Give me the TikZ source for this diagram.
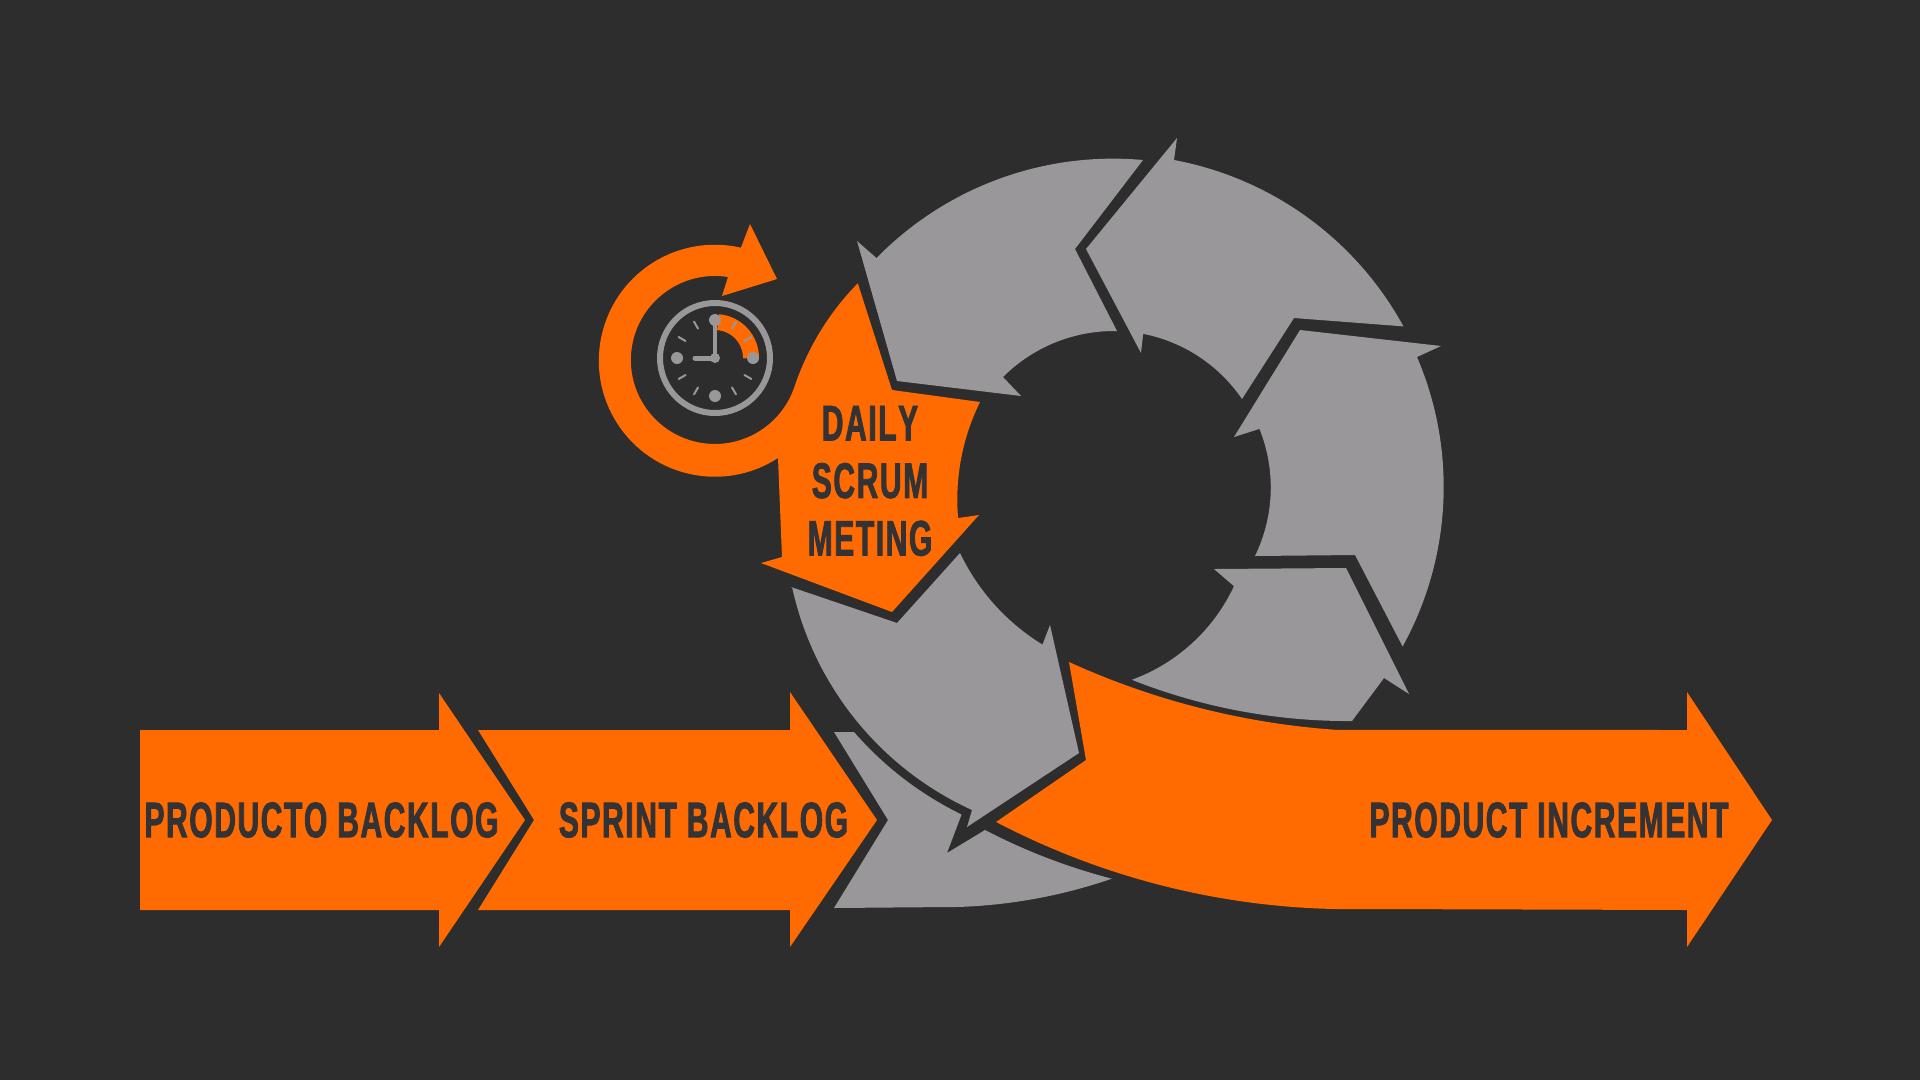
\documentclass[tikz,border=0pt]{standalone}
\usepackage{fontspec}
\newfontfamily\labelfont[FakeStretch=0.6,FakeBold=1.6,LetterSpace=3.2,Kerning=Off]{Liberation Sans}
\definecolor{backdrop}{HTML}{2D2D2D}
\definecolor{cycleGrey}{HTML}{99979A}
\definecolor{sprintOrange}{HTML}{FF6B00}
\definecolor{labelDark}{HTML}{333235}
\tikzset{
    greyshape/.style={fill=cycleGrey},
    orangeshape/.style={fill=sprintOrange},
    barlabel/.style={text=labelDark,font=\labelfont\bfseries\fontsize{50}{57.6}\selectfont,inner sep=0pt,align=center},
    clockpart/.style={draw=cycleGrey,line cap=round},
}
\begin{document}
\begin{tikzpicture}[x=1pt,y=-1pt]
    \useasboundingbox (0,0) rectangle (1920,1080);
    \fill[backdrop] (0,0) rectangle (1920,1080);

    % cycle
    \fill[greyshape] (1177,138) -- (1174,160) arc[start angle=79.4,end angle=28.7,radius=331pt] -- (1294,318) -- (1242,399)
        arc[start angle=34.3,end angle=78.9,radius=156pt] -- (1141,353) -- (1086,249) -- cycle;
    \fill[greyshape] (1143,160) arc[start angle=84.8,end angle=135.6,radius=331pt] -- (857,241) -- (897,381) -- (1021,396) -- (1003,377)
        arc[start angle=135,end angle=88.9,radius=157pt] -- (1075,249) -- cycle;
    \fill[greyshape] (1441,346) -- (1417,357) arc[start angle=23.2,end angle=-28.9,radius=330pt] -- (1355,555) -- (1255,556)
        arc[start angle=-25.9,end angle=21.9,radius=157pt] -- (1234,437) -- (1300,330) -- cycle;
    \fill[greyshape] (1214,569) -- (1346,568) -- (1409,694) -- (1384,678) -- (1352,721)
        arc[start angle=270.4,end angle=248.4,radius=587pt] arc[start angle=290,end angle=335,radius=181pt] -- cycle;
    \fill[greyshape] (791,587) -- (897,623) -- (960,553) arc[start angle=205.5,end angle=238.5,radius=217pt] -- (1050,625)
        -- (1079,753) -- (967,827) -- (972,810) arc[start angle=245.5,end angle=192.5,radius=320pt] -- cycle;
    \fill[greyshape] (834,732) -- (854,732) arc[start angle=221,end angle=244,radius=340pt] -- (947,853) -- (985,830)
        arc[start angle=242.5,end angle=255.5,radius=600pt] arc[start angle=289,end angle=269,radius=524pt] -- (834,908) -- (888,820) -- cycle;

    % bars
    \fill[orangeshape] (140,730) -- (439,730) -- (439,693) -- (525,820) -- (439,947) -- (439,910) -- (140,910) -- cycle;
    \fill[orangeshape] (478,730) -- (790,730) -- (790,692) -- (877,820) -- (790,947) -- (790,910) -- (478,910) -- (534,820) -- cycle;
    \fill[orangeshape] (996,822) -- (1086,760) -- (1069,662) arc[start angle=245.5,end angle=266,radius=774pt]
        -- (1687,730) -- (1687,692) -- (1772,820) -- (1687,947) -- (1687,910) -- (1367,909)
        arc[start angle=271.2,end angle=242.4,radius=766pt] -- cycle;

    % daily arrow with its ring
    \fill[orangeshape] (750,224) -- (777,279) -- (722,296) -- (728,277)
        arc[start angle=81,end angle=341,radius=84pt]
        arc[start angle=161.6,end angle=135.6,radius=271pt]
        -- (892,390) -- (980,402)
        arc[start angle=153.8,end angle=184.8,radius=221pt]
        -- (979,515) -- (892,612) -- (761,563) -- (782,557) -- (778,458)
        arc[start angle=303,end angle=77,radius=116pt]
        -- cycle;

    % clock
    \coordinate (clock) at (715,358);
    \draw[cycleGrey,line width=6pt] (clock) circle[radius=55pt];
    \draw[sprintOrange,line width=16pt] (clock) ++(-85:36) arc[start angle=85,end angle=0,radius=36pt];
    \foreach \a in {30,60,...,330} {
        \draw[clockpart,line width=2pt] (clock) ++(\a:34) -- ++(\a:8);
    }
    \fill[cycleGrey] (clock) ++(-90:38) circle[radius=6pt];
    \fill[cycleGrey] (clock) ++(0:38) circle[radius=6pt];
    \fill[cycleGrey] (clock) ++(180:38) circle[radius=6pt];
    \fill[cycleGrey] (clock) ++(90:38) circle[radius=6pt];
    \draw[clockpart,line width=4.5pt] (clock) -- ++(-90:38);
    \draw[clockpart,line width=5pt] (clock) -- ++(180:20);
    \fill[cycleGrey] (clock) circle[radius=5pt];

    % labels
    \node[barlabel] (productBacklog) at (321.5,820) {PRODUCTO BACKLOG};
    \node[barlabel] (sprintBacklog) at (703.5,820) {SPRINT BACKLOG};
    \node[barlabel] (productIncrement) at (1549,820) {PRODUCT INCREMENT};
    \node[barlabel] (dailyScrum) at (870,481) {DAILY\\SCRUM\\METING};
\end{tikzpicture}
\end{document}
